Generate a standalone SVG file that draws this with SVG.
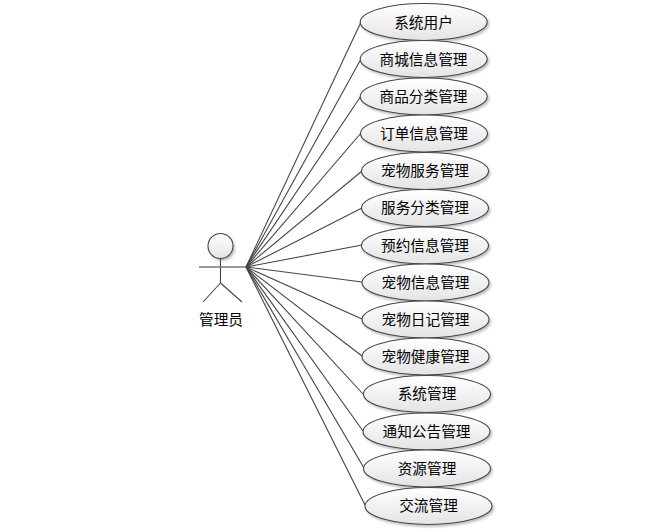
<svg xmlns="http://www.w3.org/2000/svg" width="671" height="532" viewBox="0 0 671 532">
<defs>
<linearGradient id="g" x1="0" y1="0" x2="0" y2="1"><stop offset="0" stop-color="#ffffff"/><stop offset="1" stop-color="#e4e4e4"/></linearGradient>
<filter id="s" x="-10%" y="-20%" width="120%" height="150%"><feDropShadow dx="1.5" dy="2" stdDeviation="1.2" flood-color="#000" flood-opacity="0.25"/></filter>
</defs>
<style>
text{font-family:"Noto Sans CJK SC","Liberation Sans",sans-serif;font-size:14.670px;fill:#000;text-anchor:middle}
ellipse{fill:url(#g);stroke:#444;stroke-width:1.100;filter:url(#s)}
.c line{stroke:#444;stroke-width:1.100}
.a line{stroke:#444;stroke-width:1.100}
</style>
<rect width="671" height="532" fill="#fff"/>
<g id="connectors" class="c">
<line x1="246" y1="267" x2="361" y2="22"/>
<line x1="246" y1="267" x2="361" y2="59"/>
<line x1="246" y1="267" x2="361" y2="96"/>
<line x1="246" y1="267" x2="361" y2="133"/>
<line x1="246" y1="267" x2="362" y2="171"/>
<line x1="246" y1="267" x2="362" y2="208"/>
<line x1="246" y1="267" x2="362" y2="245"/>
<line x1="246" y1="267" x2="362" y2="282"/>
<line x1="246" y1="267" x2="362" y2="319"/>
<line x1="246" y1="267" x2="362" y2="356"/>
<line x1="246" y1="267" x2="363" y2="394"/>
<line x1="246" y1="267" x2="363" y2="431"/>
<line x1="246" y1="267" x2="364" y2="468"/>
<line x1="246" y1="267" x2="365" y2="505"/>
</g>
<g id="actor" class="a">
<ellipse cx="220.500" cy="246" rx="12.500" ry="12.500"/>
<line x1="220.500" y1="258.500" x2="220.500" y2="283"/>
<line x1="199" y1="267" x2="246" y2="267" style="stroke:#777;stroke-width:1.600"/>
<line x1="220.500" y1="283" x2="203" y2="302"/>
<line x1="220.500" y1="283" x2="242" y2="302"/>
<text x="221" y="324.500">管理员</text>
</g>
<g id="n1"><ellipse cx="423.700" cy="22" rx="63.500" ry="18.500"/><text x="423.500" y="27.700">系统用户</text></g>
<g id="n2"><ellipse cx="423.700" cy="59" rx="63.500" ry="18.500"/><text x="423.500" y="64.700">商城信息管理</text></g>
<g id="n3"><ellipse cx="423.700" cy="96.500" rx="63.500" ry="18.500"/><text x="423.500" y="101.700">商品分类管理</text></g>
<g id="n4"><ellipse cx="424" cy="133.500" rx="63.500" ry="18.500"/><text x="424" y="138.700">订单信息管理</text></g>
<g id="n5"><ellipse cx="425" cy="171" rx="63.500" ry="18.500"/><text x="425" y="176.200">宠物服务管理</text></g>
<g id="n6"><ellipse cx="425" cy="208" rx="63.500" ry="18.500"/><text x="425" y="213.200">服务分类管理</text></g>
<g id="n7"><ellipse cx="425" cy="245.500" rx="63.500" ry="18.500"/><text x="425" y="250.700">预约信息管理</text></g>
<g id="n8"><ellipse cx="425.500" cy="282.500" rx="63.500" ry="18.500"/><text x="425.500" y="287.700">宠物信息管理</text></g>
<g id="n9"><ellipse cx="425.500" cy="319.500" rx="63.500" ry="18.500"/><text x="425.500" y="324.700">宠物日记管理</text></g>
<g id="n10"><ellipse cx="425.500" cy="356.500" rx="63.500" ry="18.500"/><text x="425.500" y="361.700">宠物健康管理</text></g>
<g id="n11"><ellipse cx="427" cy="394" rx="63.500" ry="18.500"/><text x="427" y="399.200">系统管理</text></g>
<g id="n12"><ellipse cx="426.500" cy="431.500" rx="63.500" ry="18.500"/><text x="426.500" y="436.700">通知公告管理</text></g>
<g id="n13"><ellipse cx="427" cy="468.500" rx="63.500" ry="18.500"/><text x="427" y="473.700">资源管理</text></g>
<g id="n14"><ellipse cx="428.500" cy="506" rx="63.500" ry="18.500"/><text x="428.500" y="511.200">交流管理</text></g>
</svg>
